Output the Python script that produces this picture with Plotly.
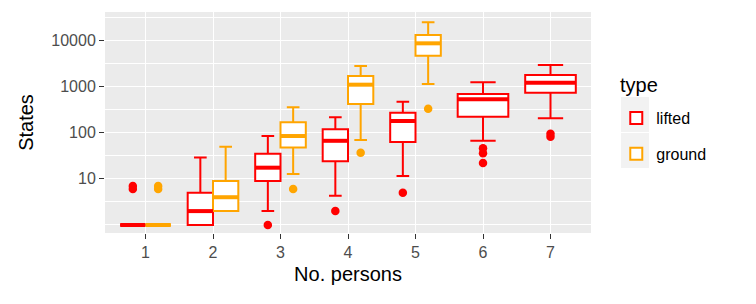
import plotly.graph_objects as go

persons = [1, 2, 3, 4, 5, 6, 7]

# lifted
lifted_x = [1, 2, 3, 4, 5, 6, 7]
lifted_lo = [1, 1, 2, 4.3, 11.6, 67, 206]
lifted_q1 = [1, 1, 9, 24, 63, 223, 741]
lifted_median = [1, 2, 17.5, 67, 180, 533, 1222]
lifted_q3 = [1, 5, 35, 119, 273, 695, 1795]
lifted_hi = [1, 29, 85, 217, 473, 1245, 2958]
lifted_outliers = [[6, 7], [], [1], [2], [5], [22, 36, 46], [82, 95]]

# ground
ground_x = [1, 2, 3, 4, 5]
ground_lo = [1, 2, 12.8, 70, 1145]
ground_q1 = [1, 2, 48, 421, 4700]
ground_median = [1, 4, 85, 1105, 8720]
ground_q3 = [1, 9, 169, 1706, 13200]
ground_hi = [1, 50, 357, 2812, 24900]
ground_outliers = [[6, 7], [], [6], [37], [333]]

y_ticks = [10, 100, 1000, 10000]
y_tick_labels = ["10", "100", "1000", "10000"]

series = [
    ("lifted", "#FF0000", lifted_x, lifted_lo, lifted_q1, lifted_median, lifted_q3, lifted_hi, lifted_outliers),
    ("ground", "#FFA500", ground_x, ground_lo, ground_q1, ground_median, ground_q3, ground_hi, ground_outliers),
]

DODGE = 0.75
fig = go.Figure()

present = {p: [s[0] for s in series if p in s[2]] for p in persons}

for si, (name, color, xs, lo, q1, med, q3, hi, outs) in enumerate(series):
    first = True
    for i, p in enumerate(xs):
        groups = present[p]
        n = len(groups)
        w = DODGE / n
        k = groups.index(name)
        pos = p - DODGE / 2 + w * (k + 0.5)
        fig.add_trace(go.Box(
            x=[pos], q1=[q1[i]], median=[med[i]], q3=[q3[i]],
            lowerfence=[lo[i]], upperfence=[hi[i]],
            width=w, boxpoints=False,
            fillcolor="white", line=dict(color=color, width=2),
            name=name, legendgroup=name, showlegend=first,
            hoverinfo="skip",
        ))
        first = False
        fig.add_trace(go.Scatter(
            x=[pos - w / 2, pos + w / 2], y=[med[i], med[i]],
            mode="lines", line=dict(color=color, width=4),
            showlegend=False, legendgroup=name, hoverinfo="skip",
        ))
        if outs[i]:
            fig.add_trace(go.Scatter(
                x=[pos] * len(outs[i]), y=outs[i], mode="markers",
                marker=dict(color=color, size=8.5),
                showlegend=False, legendgroup=name, hoverinfo="skip",
            ))

minor_vals = [10 ** (k + 0.5) for k in range(-1, 5)] + [1]

# legend key backgrounds (paper coords)
key_shapes = [
    dict(type="rect", xref="paper", yref="paper", x0=1.0617, x1=1.1193, y0=0.4389 + 0.018, y1=0.5973 + 0.018,
         fillcolor="#F2F2F2", line=dict(width=0), layer="below"),
    dict(type="rect", xref="paper", yref="paper", x0=1.0617, x1=1.1193, y0=0.276 + 0.018, y1=0.4344 + 0.018,
         fillcolor="#F2F2F2", line=dict(width=0), layer="below"),
]

fig.update_layout(
    width=756, height=304,
    margin=dict(l=105, r=165, t=12, b=71),
    paper_bgcolor="white", plot_bgcolor="#EBEBEB",
    boxmode="overlay",
    font=dict(family="Liberation Sans, Arial, sans-serif", color="black"),
    showlegend=True,
    legend=dict(
        font=dict(size=16, color="black"),
        x=1.052, xanchor="left", y=0.597, yanchor="top",
        tracegroupgap=12, bgcolor="rgba(0,0,0,0)",
    ),
    shapes=key_shapes,
    annotations=[dict(
        text="type", xref="paper", yref="paper", x=1.0556, y=0.67,
        xanchor="left", yanchor="middle", showarrow=False,
        font=dict(size=20, color="black"),
    )],
    xaxis=dict(
        range=[0.4, 7.6], tickmode="array", tickvals=persons,
        ticktext=[str(p) for p in persons],
        showgrid=True, gridcolor="white", gridwidth=1.2,
        zeroline=False, showline=False,
        ticks="outside", ticklen=5, tickcolor="#333333", tickwidth=1.2,
        tickfont=dict(size=16, color="#4D4D4D"),
        title=dict(text="No. persons", font=dict(size=20, color="black"), standoff=6),
    ),
    yaxis=dict(
        type="log", range=[-0.174, 4.62],
        tickmode="array", tickvals=y_ticks, ticktext=y_tick_labels,
        showgrid=True, gridcolor="white", gridwidth=1.2,
        zeroline=False, showline=False,
        ticks="outside", ticklen=5, tickcolor="#333333", tickwidth=1.2,
        tickfont=dict(size=16, color="#4D4D4D"),
        minor=dict(tickvals=minor_vals, showgrid=True, gridcolor="white", gridwidth=0.6, ticks=""),
        title=dict(text="States", font=dict(size=20, color="black"), standoff=12),
    ),
)

fig.write_html(
    "out.html",
    config={"displayModeBar": False},
    post_script="document.body.style.margin='0';document.body.style.overflow='hidden';",
)
